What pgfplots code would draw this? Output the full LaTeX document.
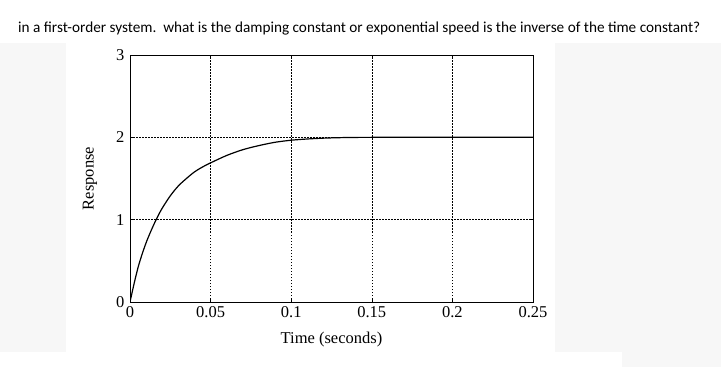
\documentclass[border=0pt]{standalone}
\usepackage{fontspec}
\setmainfont{Liberation Serif}
\newfontfamily\calibri{Carlito}
\usepackage{pgfplots}
\pgfplotsset{compat=1.18}
\definecolor{bggray}{HTML}{F7F7F7}
\begin{document}
\begin{tikzpicture}
\useasboundingbox (0pt,0pt) rectangle (721pt,386pt);
\fill[white] (0pt,0pt) rectangle (721pt,386pt);
\fill[bggray] (0pt,34pt) rectangle (66pt,343pt);
\fill[bggray] (555pt,34pt) rectangle (721pt,343pt);
\fill[bggray] (622pt,19pt) rectangle (721pt,34pt);
\node[anchor=base west, inner sep=0pt] at (18pt,353pt) {\resizebox{682pt}{!}{\calibri in a first-order system.\ \ what is the damping constant or exponential speed is the inverse of the time constant?}};
\begin{axis}[
  at={(130pt,84pt)}, anchor=south west,
  width=403pt, height=247pt, scale only axis,
  xmin=0, xmax=0.25, ymin=0, ymax=3,
  xtick={0,0.05,0.1,0.15,0.2,0.25},
  xticklabels={0,0.05,0.1,0.15,0.2,0.25},
  ytick={0,1,2,3},
  yticklabels={0,1,2,3},
  scaled x ticks=false,
  grid=major,
  major grid style={black, line width=0.6pt, dash pattern=on 1.5pt off 1.5pt},
  axis line style={black, line width=1pt},
  tick align=inside, major tick length=4pt,
  tick style={black, line width=0.6pt},
  /pgf/number format/assume math mode=true,
  tick label style={font=\fontsize{16.5}{19}\selectfont},
  label style={font=\fontsize{16.5}{19}\selectfont},
  xlabel={Time (seconds)},
  ylabel={Response},
  xlabel style={at={(axis description cs:0.5,-0.166)}, anchor=base},
  ylabel style={at={(axis description cs:-0.099,0.5)}, anchor=center},
  xticklabel style={yshift=-1pt},
  yticklabel style={xshift=-2pt},
]
\addplot[black, line width=1.2pt, smooth] table {
x y
0 0
0.0025 0.22
0.005 0.42
0.0075 0.58
0.01 0.72
0.0125 0.84
0.015 0.95
0.0175 1.05
0.02 1.14
0.025 1.29
0.03 1.41
0.035 1.50
0.04 1.58
0.045 1.64
0.05 1.69
0.06 1.78
0.07 1.85
0.08 1.90
0.09 1.94
0.1 1.965
0.11 1.98
0.12 1.99
0.13 1.996
0.14 1.999
0.16 2.0
0.25 2.0
};
\end{axis}
\end{tikzpicture}
\end{document}
